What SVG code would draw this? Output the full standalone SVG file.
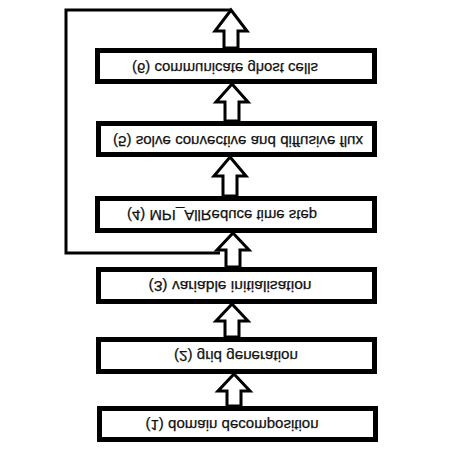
<svg xmlns="http://www.w3.org/2000/svg" width="474" height="474" viewBox="0 0 474 474">
<style>
.box{fill:#fff;stroke:#000;stroke-width:5}
.arr{fill:#fff;stroke:#000;stroke-width:3;stroke-linejoin:miter}
.lbl{font-family:"Liberation Sans",Arial,sans-serif;font-size:15px;fill:#111;stroke:#111;stroke-width:0.25;text-anchor:middle;dominant-baseline:central}
.loop{fill:none;stroke:#000;stroke-width:3}
</style>
<rect width="474" height="474" fill="#fff"/>
<g id="connectors">
<polyline class="loop" points="220,253 66,253 66,10 231,10"/>
<path id="a0" class="arr" d="M231,10 L247,31 L238,31 L238,48 L224,48 L224,31 L215,31 Z"/>
<path id="a1" class="arr" d="M232,84 L248,102 L239,102 L239,121 L225,121 L225,102 L216,102 Z"/>
<path id="a2" class="arr" d="M230,157 L246,176 L237,176 L237,196 L223,196 L223,176 L214,176 Z"/>
<path id="a3" class="arr" d="M233,233 L249,250 L240,250 L240,267 L226,267 L226,250 L217,250 Z"/>
<path id="a4" class="arr" d="M232,304 L248,321 L239,321 L239,337 L225,337 L225,321 L216,321 Z"/>
<path id="a5" class="arr" d="M234,374 L250,391 L241,391 L241,406 L227,406 L227,391 L218,391 Z"/>
</g>
<g id="n6"><rect class="box" x="97.5" y="50.5" width="277" height="31"/><text class="lbl" transform="translate(225,68) scale(1,-1)" textLength="186" lengthAdjust="spacingAndGlyphs">(6) communicate ghost cells</text></g>
<g id="n5"><rect class="box" x="98.5" y="123.5" width="276" height="31"/><text class="lbl" transform="translate(238,141) scale(1,-1)" textLength="250" lengthAdjust="spacingAndGlyphs">(5) solve convective and diffusive flux</text></g>
<g id="n4"><rect class="box" x="97.5" y="198.5" width="277" height="32"/><text class="lbl" transform="translate(222,215) scale(1,-1)" textLength="190" lengthAdjust="spacingAndGlyphs">(4) MPI_AllReduce time step</text></g>
<g id="n3"><rect class="box" x="98.5" y="269.5" width="276" height="32"/><text class="lbl" transform="translate(230,286) scale(1,-1)" textLength="163" lengthAdjust="spacingAndGlyphs">(3) variable initialisation</text></g>
<g id="n2"><rect class="box" x="98.5" y="339.5" width="276" height="32"/><text class="lbl" transform="translate(236,356) scale(1,-1)" textLength="124" lengthAdjust="spacingAndGlyphs">(2) grid generation</text></g>
<g id="n1"><rect class="box" x="99.5" y="408.5" width="276" height="31"/><text class="lbl" transform="translate(232,425) scale(1,-1)" textLength="173" lengthAdjust="spacingAndGlyphs">(1) domain decomposition</text></g>
</svg>
